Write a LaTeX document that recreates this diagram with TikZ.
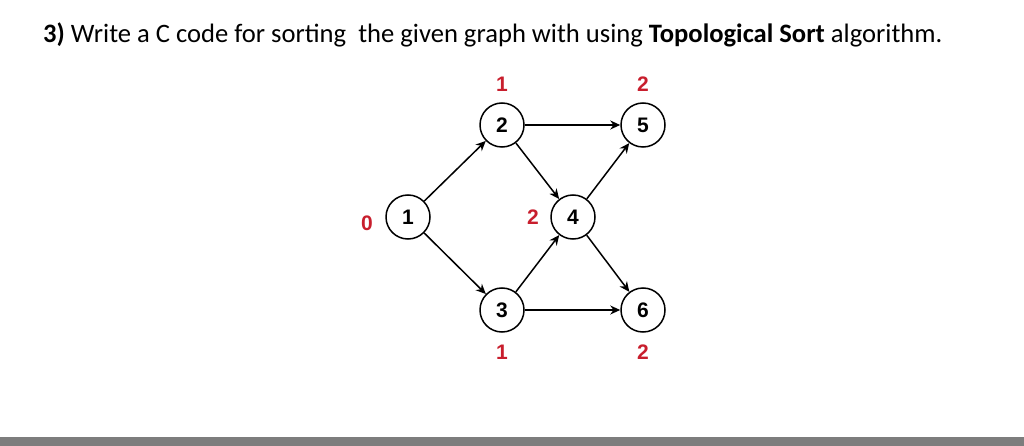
\documentclass[tikz,border=0pt]{standalone}
\usepackage{fontspec}
\setmainfont{Carlito}
\newfontfamily\arialfont{Liberation Sans}
\usetikzlibrary{positioning,arrows.meta}
\definecolor{degred}{RGB}{200,30,45}
\definecolor{barGray}{RGB}{125,125,125}
\begin{document}
\begin{tikzpicture}[x=1pt, y=-1pt, on grid, >={Stealth[length=10pt,width=9pt]},
  vertex/.style={circle, draw, line width=1.5pt, minimum size=44pt, inner sep=0pt,
    font=\arialfont\bfseries\fontsize{21}{21}\selectfont},
  degree/.style={text=degred, inner sep=0pt, font=\arialfont\bfseries\fontsize{21}{21}\selectfont}]
\useasboundingbox (0,0) rectangle (1024,446);
\fill[barGray] (0,437) rectangle (1024,446);
\node[anchor=base west, inner sep=0pt, font=\fontsize{26.6}{28}\selectfont] (title) at (43,43)
  {\textbf{3)} Write a C code for sorting\ \ the given graph with using \textbf{Topological Sort} algorithm.};

\node[vertex] (1) at (408,217) {1};
\node[vertex] (2) [above right=92pt and 94pt of 1] {2};
\node[vertex] (3) [below right=93pt and 94pt of 1] {3};
\node[vertex] (4) [right=165pt of 1] {4};
\node[vertex] (5) [right=141pt of 2] {5};
\node[vertex] (6) [right=141pt of 3] {6};

\node[degree] (d1) [left=41pt of 1, yshift=-6pt] {0};
\node[degree] (d2) [above=41pt of 2] {1};
\node[degree] (d3) [below=42pt of 3] {1};
\node[degree] (d4) [left=40pt of 4] {2};
\node[degree] (d5) [above=41pt of 5] {2};
\node[degree] (d6) [below=42pt of 6] {2};

\path [->, line width=1.5pt] (1) edge (2);
\path [->, line width=1.5pt] (1) edge (3);
\path [->, line width=1.5pt] (2) edge (5);
\path [->, line width=1.5pt] (2) edge (4);
\path [->, line width=1.5pt] (3) edge (4);
\path [->, line width=1.5pt] (3) edge (6);
\path [->, line width=1.5pt] (4) edge (5);
\path [->, line width=1.5pt] (4) edge (6);
\end{tikzpicture}
\end{document}
